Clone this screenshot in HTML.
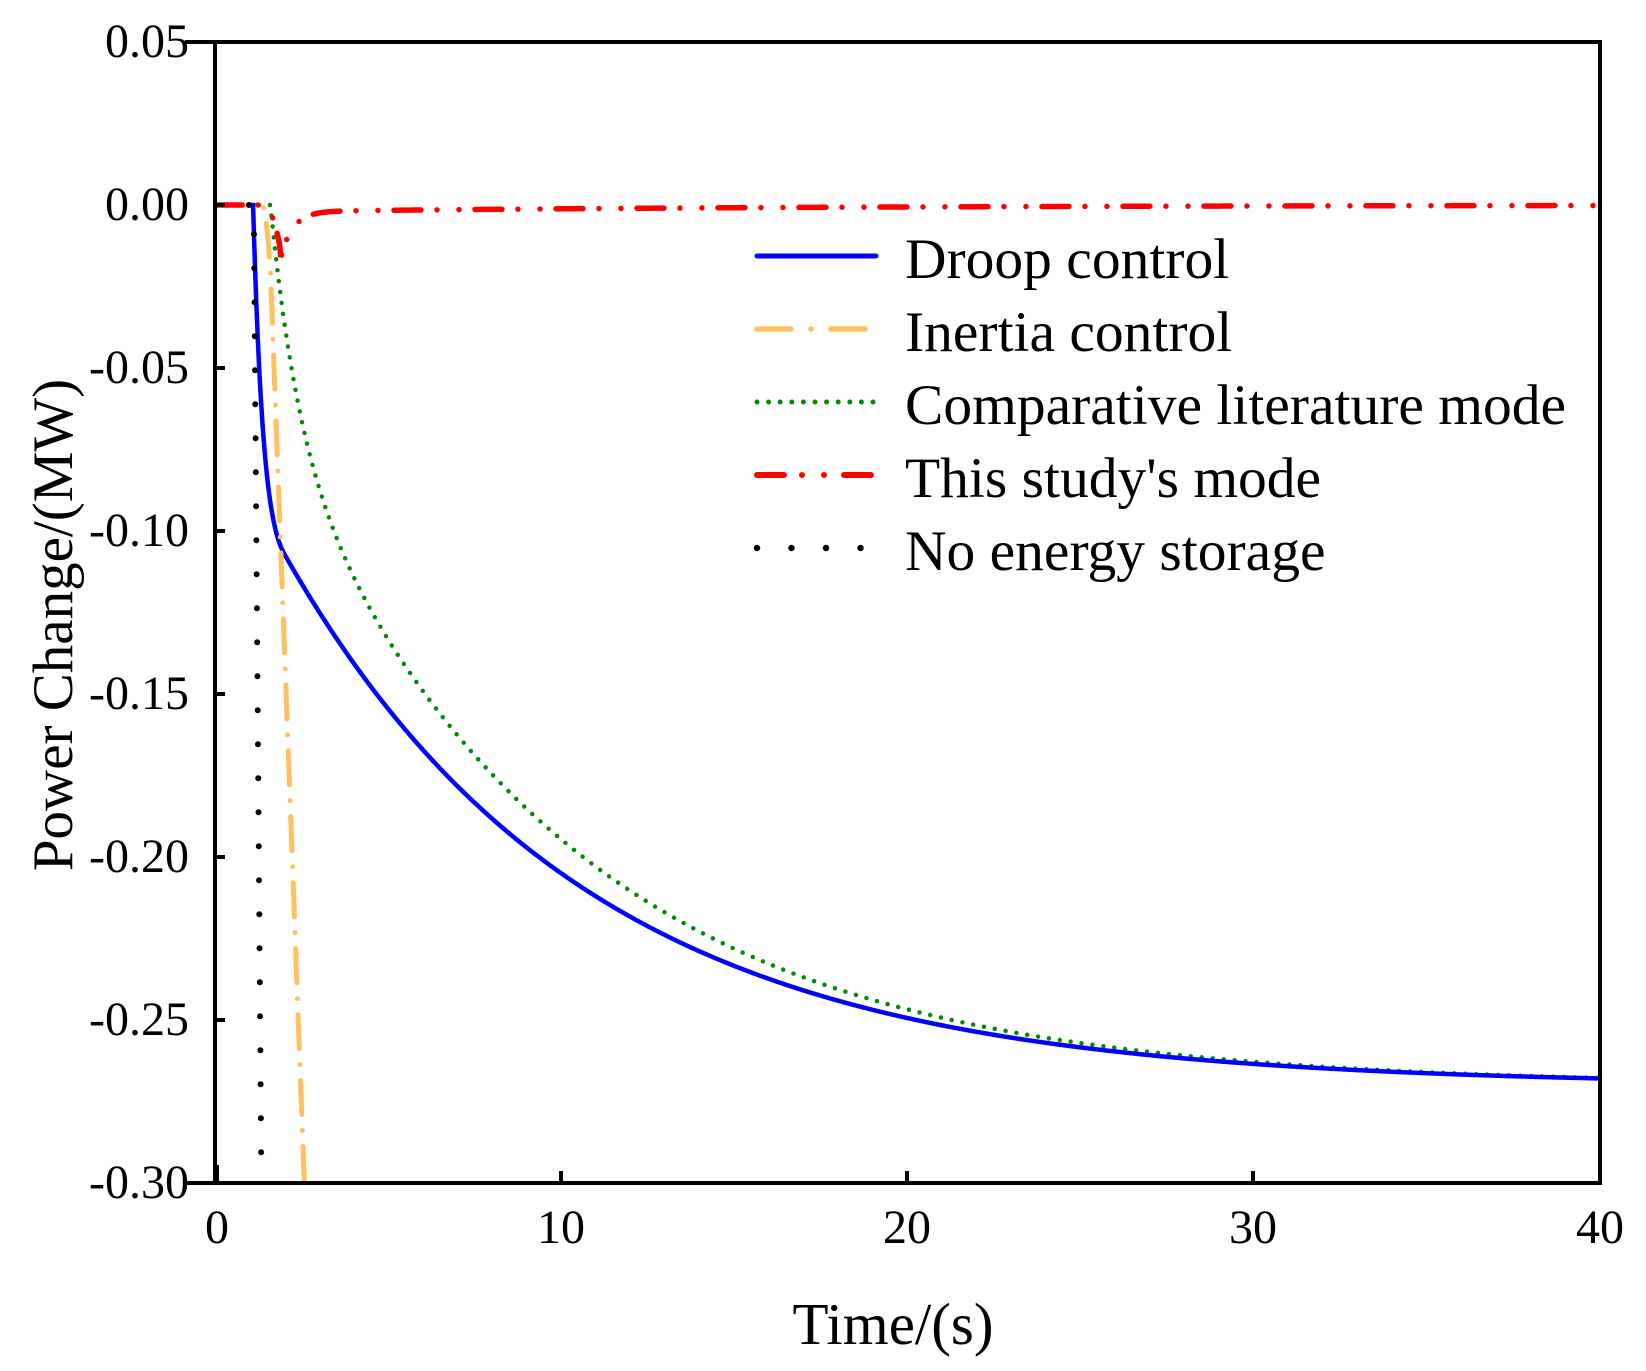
<!DOCTYPE html>
<html><head><meta charset="utf-8"><style>
html,body{margin:0;padding:0;background:#fff;width:1646px;height:1371px;overflow:hidden;}
svg{display:block;font-family:"Liberation Serif",serif;}
</style></head><body>
<svg id="s" width="1646" height="1371" viewBox="0 0 1646 1371" xmlns="http://www.w3.org/2000/svg">
<defs><clipPath id="c"><rect x="215" y="42" width="1385" height="1141"/></clipPath></defs>
<g clip-path="url(#c)" fill="none" stroke-linecap="round">
<path id="pg" stroke="#008a00" stroke-width="4.5" stroke-dasharray="0 11"/>
<path id="pb" stroke="#0000ff" stroke-width="4.5"/>
<path id="po" stroke="#ffc060" stroke-width="5" stroke-dasharray="34 16 0 16"/>
<path id="pr" stroke="#ff0000" stroke-width="5.5" stroke-dasharray="27 16 0 22 0 16"/>
<path id="pk" stroke="#000" stroke-width="6" stroke-dasharray="0 34"/>
</g>
<g stroke="#000" stroke-width="4" fill="none">
<rect x="215" y="42" width="1385" height="1141"/>
<line x1="185" y1="42" x2="215" y2="42"/>
<line x1="185" y1="1183" x2="215" y2="1183"/>
<line x1="215" y1="205" x2="225" y2="205"/>
<line x1="215" y1="368" x2="225" y2="368"/>
<line x1="215" y1="531" x2="225" y2="531"/>
<line x1="215" y1="694" x2="225" y2="694"/>
<line x1="215" y1="857" x2="225" y2="857"/>
<line x1="215" y1="1020" x2="225" y2="1020"/>
<line x1="561" y1="1183" x2="561" y2="1171"/>
<line x1="907" y1="1183" x2="907" y2="1171"/>
<line x1="1253" y1="1183" x2="1253" y2="1171"/>
<line x1="217" y1="1183" x2="217" y2="1165"/>
</g>
<g font-size="48" text-anchor="end" fill="#000">
<text x="189" y="57">0.05</text>
<text x="189" y="220">0.00</text>
<text x="189" y="383">-0.05</text>
<text x="189" y="546">-0.10</text>
<text x="189" y="709">-0.15</text>
<text x="189" y="872">-0.20</text>
<text x="189" y="1035">-0.25</text>
<text x="189" y="1198">-0.30</text>
</g>
<g font-size="48" text-anchor="middle" fill="#000">
<text x="217" y="1243">0</text>
<text x="561" y="1243">10</text>
<text x="907" y="1243">20</text>
<text x="1253" y="1243">30</text>
<text x="1600" y="1243">40</text>
</g>
<text x="893" y="1344" font-size="59" text-anchor="middle">Time/(s)</text>
<text transform="translate(72,625) rotate(-90)" font-size="57" text-anchor="middle">Power Change/(MW)</text>
<g fill="none" stroke-linecap="round">
<line x1="757" y1="256" x2="876" y2="256" stroke="#0000ff" stroke-width="5"/>
<line x1="757" y1="329" x2="876" y2="329" stroke="#ffc060" stroke-width="5.5" stroke-dasharray="34 20 0 20"/>
<line x1="757" y1="402" x2="876" y2="402" stroke="#008a00" stroke-width="5" stroke-dasharray="0 11.6"/>
<line x1="757" y1="475" x2="872" y2="475" stroke="#ff0000" stroke-width="6" stroke-dasharray="27 18 0 22 0 20"/>
<line x1="757" y1="548" x2="876" y2="548" stroke="#000" stroke-width="6.5" stroke-dasharray="0 34.5"/>
</g>
<g font-size="57.5" fill="#000">
<text x="905" y="278">Droop control</text>
<text x="905" y="351">Inertia control</text>
<text x="905" y="424">Comparative literature mode</text>
<text x="905" y="497">This study's mode</text>
<text x="905" y="570">No energy storage</text>
</g>
</svg>
<script>
function X(t){return 215+34.625*t;}
function Y(v){return 205-3260*v;}
function build(f,t0,t1,n){var d="";for(var i=0;i<=n;i++){var t=t0+(t1-t0)*i/n;d+=(i?"L":"M")+X(t).toFixed(2)+" "+Y(f(t)).toFixed(2);}return d;}
function droop(t){if(t<1.1)return 0;if(t<2)return -0.107*(1-Math.exp(-(t-1.1)/0.3))/(1-Math.exp(-3));return -0.27+0.163*Math.exp(-(t-2)/8.7);}
function green(t){if(t<1.6)return 0;var s=t-1.6;return -0.27*(1-0.75*Math.exp(-s/8.5)-0.25*Math.exp(-s/0.8));}
function orange(t){if(t<1.35)return 0;var s=t-1.35;if(s<0.25)return -0.02*(s/0.25)*(s/0.25);return -0.02-(s-0.25)*0.28/0.98;}
function red(t){if(t<1.4)return 0;if(t<1.9){var s=(t-1.4)/0.5;return -0.014*s*s;}return -0.014*Math.exp(-(t-1.9)/0.35)-0.002*Math.exp(-(t-1.9)/15);}
function black(t){if(t<1.12)return 0;return -0.30*(t-1.12)/0.22;}
document.getElementById("pb").setAttribute("d",build(droop,0,40,1200));
document.getElementById("pg").setAttribute("d",build(green,0,40,1200));
document.getElementById("po").setAttribute("d",build(orange,0,2.7,300));
document.getElementById("pr").setAttribute("d",build(red,0,40,1200));
document.getElementById("pk").setAttribute("d",build(black,0,1.4,200));
</script>
</body></html>
